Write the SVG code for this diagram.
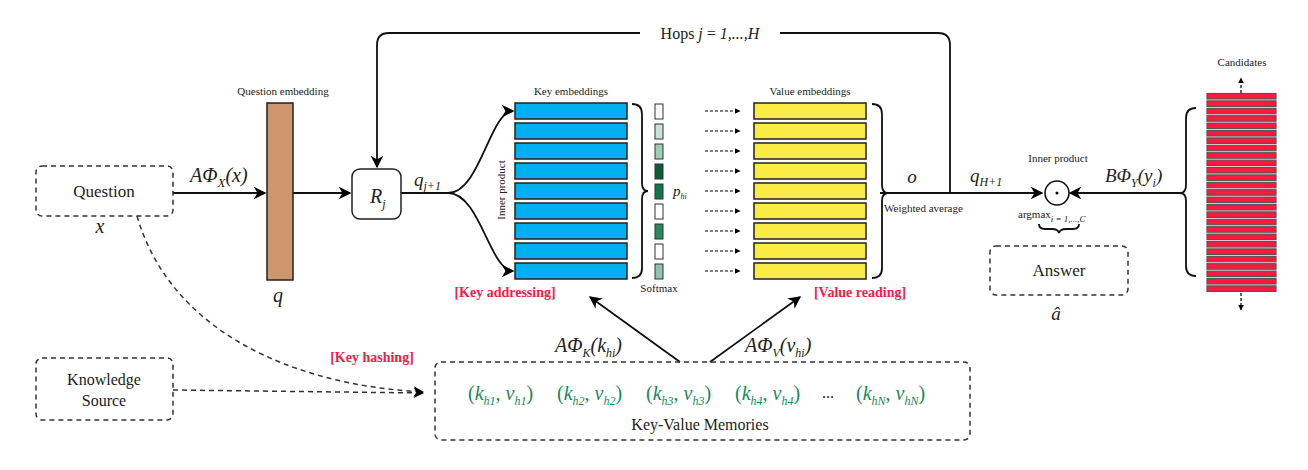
<svg xmlns="http://www.w3.org/2000/svg" width="1308" height="470" viewBox="0 0 1308 470">
<defs>
<marker id="ah" viewBox="0 0 10 10" refX="9" refY="5" markerWidth="7" markerHeight="7" orient="auto-start-reverse"><path d="M0,0 L10,5 L0,10 L3,5 z" fill="#000"/></marker>
<marker id="sm" viewBox="0 0 10 10" refX="9" refY="5" markerWidth="5" markerHeight="5" orient="auto"><path d="M0,0 L10,5 L0,10 z" fill="#000"/></marker>
</defs>
<style>
text{font-family:"Liberation Serif",serif;fill:#222}
.it{font-style:italic}
.dash{fill:none;stroke:#333;stroke-width:1.5;stroke-dasharray:5,4}
.ln{fill:none;stroke:#111;stroke-width:1.8}
.key{fill:#00b0f0;stroke:#222;stroke-width:1.5}
.val{fill:#f9ec45;stroke:#222;stroke-width:1.5}
.cand{fill:#ff1a3d;stroke:#555;stroke-width:1.2}
.red{fill:#ff1744;font-weight:bold;font-size:14px}
.grn{fill:#178a5a;font-size:20px}
</style>
<rect width="1308" height="470" fill="#fff"/>
<g id="connectors">
<path class="ln" d="M173,193 H265" marker-end="url(#ah)"/>
<path class="ln" d="M293,193 H350" marker-end="url(#ah)"/>
<path class="ln" d="M950,193 V45 Q950,33 938,33 H389 Q377,33 377,45 V167" marker-end="url(#ah)"/>
<path class="ln" d="M401,193 H448 C480,193 490,111 513,111" marker-end="url(#ah)"/>
<path class="ln" d="M448,193 C480,193 490,271 513,271" marker-end="url(#ah)"/>
<path class="ln" d="M880,193 H1042" marker-end="url(#ah)"/>
<path class="ln" d="M1180,193 H1070" marker-end="url(#ah)"/>
<path class="ln" d="M680,362 L590,297" marker-end="url(#ah)"/>
<path class="ln" d="M710,362 L800,297" marker-end="url(#ah)"/>
<path class="dash" d="M137,216 C170,330 290,385 423,392" marker-end="url(#ah)"/>
<path class="dash" d="M173,390 L423,393" marker-end="url(#ah)"/>
<g stroke="#000" stroke-width="1.2" stroke-dasharray="3,2">
<path d="M705,111 H740" marker-end="url(#sm)"/><path d="M705,131 H740" marker-end="url(#sm)"/><path d="M705,151 H740" marker-end="url(#sm)"/><path d="M705,171 H740" marker-end="url(#sm)"/><path d="M705,191 H740" marker-end="url(#sm)"/><path d="M705,211 H740" marker-end="url(#sm)"/><path d="M705,231 H740" marker-end="url(#sm)"/><path d="M705,251 H740" marker-end="url(#sm)"/><path d="M705,271 H740" marker-end="url(#sm)"/>
<path d="M1241,93 V78" marker-end="url(#sm)"/><path d="M1241,293 V310" marker-end="url(#sm)"/>
</g>
</g>
<rect x="640" y="25" width="140" height="16" fill="#fff"/>
<text x="710" y="39" font-size="16" text-anchor="middle">Hops <tspan class="it">j</tspan> = <tspan class="it">1,...,H</tspan></text>
<g id="question"><rect class="dash" x="36" y="166" width="137" height="50" rx="6"/><text x="104" y="197" font-size="17" text-anchor="middle">Question</text><text x="100" y="233" font-size="20" class="it" text-anchor="middle">x</text></g>
<text x="190" y="182" font-size="20" class="it">AΦ<tspan font-size="13" dy="5">X</tspan><tspan dy="-5">(x)</tspan></text>
<g id="qemb"><text x="283" y="95" font-size="11" text-anchor="middle">Question embedding</text><rect x="267" y="103" width="26" height="177" fill="#cd966c" stroke="#222" stroke-width="1.5"/><text x="278" y="302" font-size="20" class="it" text-anchor="middle">q</text></g>
<g id="rj"><rect x="352" y="169" width="49" height="50" rx="8" fill="#fff" stroke="#222" stroke-width="1.5"/><text x="370" y="203" font-size="20" class="it">R<tspan font-size="12" dy="5">j</tspan></text></g>
<text x="414" y="186" font-size="19" class="it">q<tspan font-size="12" dy="4">j+1</tspan></text>
<text transform="translate(505,190) rotate(-90)" font-size="11" text-anchor="middle">Inner product</text>
<g id="keys">
<text x="571" y="95" font-size="11" text-anchor="middle">Key embeddings</text>
<rect class="key" x="515" y="103" width="112" height="16"/><rect class="key" x="515" y="123" width="112" height="16"/><rect class="key" x="515" y="143" width="112" height="16"/><rect class="key" x="515" y="163" width="112" height="16"/><rect class="key" x="515" y="183" width="112" height="16"/><rect class="key" x="515" y="203" width="112" height="16"/><rect class="key" x="515" y="223" width="112" height="16"/><rect class="key" x="515" y="243" width="112" height="16"/><rect class="key" x="515" y="263" width="112" height="16"/>
<path class="ln" stroke-width="1.4" d="M632,104 Q642,104 642,114 V183 Q642,191 648,191 Q642,191 642,199 V268 Q642,278 632,278"/>
</g>
<g id="softmax" stroke="#333" stroke-width="1">
<rect x="655" y="104" width="8" height="15" fill="#f3faf6"/><rect x="655" y="124" width="8" height="15" fill="#c6e3d4"/><rect x="655" y="144" width="8" height="15" fill="#9fcdb6"/><rect x="655" y="164" width="8" height="15" fill="#0b5e35"/><rect x="655" y="184" width="8" height="15" fill="#11774a"/><rect x="655" y="204" width="8" height="15" fill="#fff"/><rect x="655" y="224" width="8" height="15" fill="#278a60"/><rect x="655" y="244" width="8" height="15" fill="#fff"/><rect x="655" y="264" width="8" height="15" fill="#8fc4aa"/>
</g>
<text x="673" y="196" font-size="15" class="it">p<tspan font-size="8" dy="3">hi</tspan></text>
<text x="659" y="292" font-size="11" text-anchor="middle">Softmax</text>
<g id="values">
<text x="810" y="95" font-size="11" text-anchor="middle">Value embeddings</text>
<rect class="val" x="754" y="103" width="112" height="16"/><rect class="val" x="754" y="123" width="112" height="16"/><rect class="val" x="754" y="143" width="112" height="16"/><rect class="val" x="754" y="163" width="112" height="16"/><rect class="val" x="754" y="183" width="112" height="16"/><rect class="val" x="754" y="203" width="112" height="16"/><rect class="val" x="754" y="223" width="112" height="16"/><rect class="val" x="754" y="243" width="112" height="16"/><rect class="val" x="754" y="263" width="112" height="16"/>
<path class="ln" stroke-width="1.4" d="M872,104 Q882,104 882,114 V185 Q882,193 888,193 Q882,193 882,201 V268 Q882,278 872,278"/>
</g>
<text x="505" y="297" class="red" text-anchor="middle">[Key addressing]</text>
<text x="860" y="297" class="red" text-anchor="middle">[Value reading]</text>
<text x="912" y="183" font-size="19" class="it" text-anchor="middle">o</text>
<text x="884" y="212" font-size="11">Weighted average</text>
<text x="970" y="182" font-size="19" class="it">q<tspan font-size="12" dy="4">H+1</tspan></text>
<g id="inner"><text x="1058" y="162" font-size="11" text-anchor="middle">Inner product</text><circle cx="1057" cy="193" r="12" fill="#fff" stroke="#111" stroke-width="1.6"/><circle cx="1057" cy="193" r="1.5" fill="#000"/>
<text x="1018" y="218" font-size="11">argmax<tspan class="it" font-size="9" dy="4">i = 1,...,C</tspan></text>
<path class="ln" stroke-width="1.2" d="M1039,224 Q1039,229 1045,229 H1052 Q1058,229 1059,233 Q1060,229 1066,229 H1073 Q1079,229 1079,224"/></g>
<text x="1105" y="182" font-size="19" class="it">BΦ<tspan font-size="12" dy="5">Y</tspan><tspan dy="-5">(y</tspan><tspan font-size="12" dy="5">i</tspan><tspan dy="-5">)</tspan></text>
<g id="answer"><rect class="dash" x="990" y="246" width="138" height="49" rx="6"/><text x="1059" y="276" font-size="17" text-anchor="middle">Answer</text><text x="1056" y="320" font-size="19" class="it" text-anchor="middle">â</text></g>
<g id="candidates">
<text x="1242" y="66" font-size="11" text-anchor="middle">Candidates</text>
<path class="ln" stroke-width="1.4" d="M1196,108 Q1186,108 1186,118 V185 Q1186,193 1180,193 Q1186,193 1186,201 V266 Q1186,276 1196,276"/>
<rect class="cand" x="1207" y="93.5" width="69" height="5.5"/><rect class="cand" x="1207" y="100.9" width="69" height="5.5"/><rect class="cand" x="1207" y="108.3" width="69" height="5.5"/><rect class="cand" x="1207" y="115.7" width="69" height="5.5"/><rect class="cand" x="1207" y="123.1" width="69" height="5.5"/><rect class="cand" x="1207" y="130.5" width="69" height="5.5"/><rect class="cand" x="1207" y="137.9" width="69" height="5.5"/><rect class="cand" x="1207" y="145.3" width="69" height="5.5"/><rect class="cand" x="1207" y="152.7" width="69" height="5.5"/><rect class="cand" x="1207" y="160.1" width="69" height="5.5"/><rect class="cand" x="1207" y="167.5" width="69" height="5.5"/><rect class="cand" x="1207" y="174.9" width="69" height="5.5"/><rect class="cand" x="1207" y="182.3" width="69" height="5.5"/><rect class="cand" x="1207" y="189.7" width="69" height="5.5"/><rect class="cand" x="1207" y="197.1" width="69" height="5.5"/><rect class="cand" x="1207" y="204.5" width="69" height="5.5"/><rect class="cand" x="1207" y="211.9" width="69" height="5.5"/><rect class="cand" x="1207" y="219.3" width="69" height="5.5"/><rect class="cand" x="1207" y="226.7" width="69" height="5.5"/><rect class="cand" x="1207" y="234.1" width="69" height="5.5"/><rect class="cand" x="1207" y="241.5" width="69" height="5.5"/><rect class="cand" x="1207" y="248.9" width="69" height="5.5"/><rect class="cand" x="1207" y="256.3" width="69" height="5.5"/><rect class="cand" x="1207" y="263.7" width="69" height="5.5"/><rect class="cand" x="1207" y="271.1" width="69" height="5.5"/><rect class="cand" x="1207" y="278.5" width="69" height="5.5"/><rect class="cand" x="1207" y="285.9" width="69" height="5.5"/>
</g>
<text x="555" y="352" font-size="20" class="it">AΦ<tspan font-size="12" dy="5">K</tspan><tspan dy="-5">(k</tspan><tspan font-size="12" dy="5">hi</tspan><tspan dy="-5">)</tspan></text>
<text x="745" y="352" font-size="20" class="it">AΦ<tspan font-size="12" dy="5">V</tspan><tspan dy="-5">(v</tspan><tspan font-size="12" dy="5">hi</tspan><tspan dy="-5">)</tspan></text>
<text x="372" y="362" class="red" text-anchor="middle">[Key hashing]</text>
<g id="knowledge"><rect class="dash" x="36" y="358" width="137" height="62" rx="6"/><text x="104" y="385" font-size="16" text-anchor="middle">Knowledge</text><text x="104" y="406" font-size="16" text-anchor="middle">Source</text></g>
<g id="kv"><rect class="dash" x="435" y="362" width="535" height="78" rx="6"/>
<text x="468" y="400" class="grn">(<tspan class="it">k</tspan><tspan class="it" font-size="12" dy="5">h1</tspan><tspan dy="-5">, </tspan><tspan class="it">v</tspan><tspan class="it" font-size="12" dy="5">h1</tspan><tspan dy="-5">)</tspan></text>
<text x="557" y="400" class="grn">(<tspan class="it">k</tspan><tspan class="it" font-size="12" dy="5">h2</tspan><tspan dy="-5">, </tspan><tspan class="it">v</tspan><tspan class="it" font-size="12" dy="5">h2</tspan><tspan dy="-5">)</tspan></text>
<text x="646" y="400" class="grn">(<tspan class="it">k</tspan><tspan class="it" font-size="12" dy="5">h3</tspan><tspan dy="-5">, </tspan><tspan class="it">v</tspan><tspan class="it" font-size="12" dy="5">h3</tspan><tspan dy="-5">)</tspan></text>
<text x="735" y="400" class="grn">(<tspan class="it">k</tspan><tspan class="it" font-size="12" dy="5">h4</tspan><tspan dy="-5">, </tspan><tspan class="it">v</tspan><tspan class="it" font-size="12" dy="5">h4</tspan><tspan dy="-5">)</tspan></text>
<text x="822" y="398" font-size="16">...</text>
<text x="856" y="400" class="grn">(<tspan class="it">k</tspan><tspan class="it" font-size="12" dy="5">hN</tspan><tspan dy="-5">, </tspan><tspan class="it">v</tspan><tspan class="it" font-size="12" dy="5">hN</tspan><tspan dy="-5">)</tspan></text>
<text x="700" y="430" font-size="16" text-anchor="middle">Key-Value Memories</text></g>
</svg>
